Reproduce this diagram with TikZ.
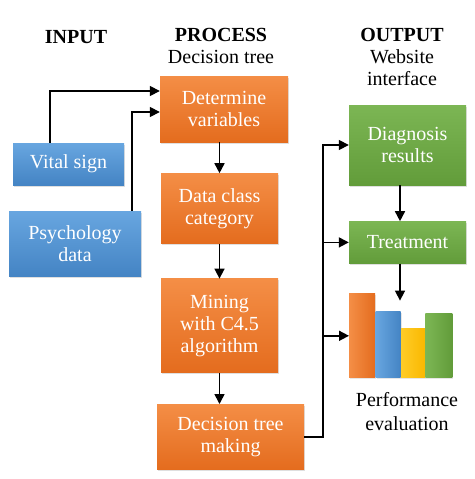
\documentclass[tikz,border=0pt]{standalone}
\usepackage{fontspec}
\setmainfont{Liberation Serif}
\usetikzlibrary{arrows.meta, positioning, shadows}
\definecolor{orgtop}{RGB}{244,142,70}
\definecolor{orgbot}{RGB}{228,108,30}
\definecolor{blutop}{RGB}{104,166,224}
\definecolor{blubot}{RGB}{68,132,196}
\definecolor{grntop}{RGB}{124,182,84}
\definecolor{grnbot}{RGB}{98,156,58}
\definecolor{yeltop}{RGB}{255,204,40}
\definecolor{yelbot}{RGB}{250,184,0}

\begin{document}
\begin{tikzpicture}[
  x=1pt, y=-1pt,
  stepbox/.style={rectangle, text=white, align=center, inner sep=2pt,
                  font=\fontsize{20}{22}\selectfont,
                  drop shadow={shadow xshift=1.2pt, shadow yshift=-1.5pt, opacity=0.25}},
  procbox/.style={stepbox, top color=orgtop, bottom color=orgbot},
  inbox/.style={stepbox, top color=blutop, bottom color=blubot},
  outbox/.style={stepbox, top color=grntop, bottom color=grnbot},
  head/.style={font=\fontsize{20}{23}\selectfont\bfseries, anchor=base, inner sep=0pt},
  sub/.style={font=\fontsize{20}{23}\selectfont, anchor=base, inner sep=0pt},
  bar/.style={rectangle, anchor=south west, inner sep=0pt,
              drop shadow={shadow xshift=1pt, shadow yshift=-1pt, opacity=0.2}},
  arr/.style={-{Triangle[length=10pt, width=10pt]}, line width=1.6pt},
]
\useasboundingbox (0,0) rectangle (474,479);

% Column headings
\node[head] (inp)  at (76,43)  {INPUT};
\node[head] (proc) at (221,41) {PROCESS};
\node[sub]  (tree) at (221,63) {Decision tree};
\node[head] (out)  at (402,41) {OUTPUT};
\node[sub]  (web)  at (402,63) {Website};
\node[sub]  (ifc)  at (402,85) {interface};

% Input
\node[inbox, minimum width=111pt, minimum height=42pt] (vital) at (68.5,164)  {Vital sign};
\node[inbox, minimum width=132pt, minimum height=65pt] (psy)   at (75,243.5) {Psychology\\data};

% Process
\node[procbox, minimum width=128pt, minimum height=66pt] (det) at (224,109) {Determine\\variables};
\node[procbox, minimum width=117pt, minimum height=70pt, below=31pt of det, xshift=-4.5pt] (dcc)  {Data class\\category};
\node[procbox, minimum width=117pt, minimum height=94pt, below=35pt of dcc]                (mine) {Mining\\with C4.5\\algorithm};
\node[procbox, minimum width=147pt, minimum height=65pt, below=31pt of mine, xshift=11pt] (dtm)  {Decision tree\\making};

% Output
\node[outbox, minimum width=117pt, minimum height=80pt] (diag) at (407.5,145) {Diagnosis\\results};
\node[outbox, minimum width=117pt, minimum height=42pt, below=36pt of diag] (treat) {Treatment};

% Performance chart
\node[bar, left color=orgtop, right color=orgbot, minimum width=26pt, minimum height=84pt] (bar1) at (349,378) {};
\node[bar, left color=blutop, right color=blubot, minimum width=25pt, minimum height=66pt] (bar2) at (bar1.south east) {};
\node[bar, left color=yeltop, right color=yelbot, minimum width=24pt, minimum height=49pt] (bar3) at (bar2.south east) {};
\node[bar, left color=grntop, right color=grnbot, minimum width=27pt, minimum height=64pt] (bar4) at (bar3.south east) {};
\node[sub] (perf) at (407,406) {Performance};
\node[sub] (eval) at (407,430) {evaluation};

% Arrows - inputs
\draw[arr] ([xshift=-18.5pt]vital.north) |- ([yshift=18pt]det.west);
\draw[arr] ([xshift=-9pt]psy.north east) |- ([yshift=-3pt]det.west);

% Arrows - process chain
\draw[arr] (det.south -| dcc.north) -- (dcc.north);
\draw[arr] (dcc) -- (mine);
\draw[arr] (mine.south) -- (mine.south |- dtm.north);

% Arrows - to outputs
\coordinate[right=19pt of dtm.east] (bus);
\draw[arr] (dtm.east) -- (bus) |- (diag.west);
\draw[arr] (treat.west -| bus) -- (treat.west);
\draw[arr] (bar1.west -| bus) -- (bar1.west);
\draw[arr] ([xshift=-7.5pt]diag.south) -- ([xshift=-7.5pt]treat.north);
\coordinate[below=37pt of treat.south, xshift=-7.5pt] (chart);
\draw[arr] ([xshift=-7.5pt]treat.south) -- (chart);

\end{tikzpicture}
\end{document}
